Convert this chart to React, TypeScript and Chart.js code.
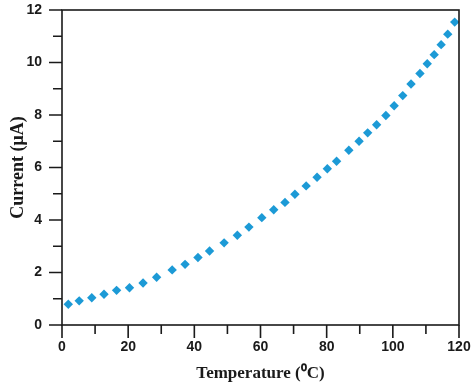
import { useEffect, useRef } from 'react';
import { Chart, registerables } from 'chart.js';

Chart.register(...registerables);

// Temperature (°C) of each plotted marker
const temperatures = [
  1.9, 5.2, 9.0, 12.7, 16.5, 20.4, 24.5, 28.6, 33.3, 37.2, 41.1, 44.6,
  49.0, 53.0, 56.5, 60.4, 64.0, 67.4, 70.4, 73.8, 77.1, 80.2, 83.0, 86.7,
  89.8, 92.4, 95.1, 97.9, 100.4, 103.0, 105.5, 108.2, 110.4, 112.5, 114.6, 116.6, 118.7,
];

// Current (µA) of each plotted marker
const currents = [
  0.79, 0.92, 1.04, 1.17, 1.32, 1.42, 1.6, 1.82, 2.1, 2.31, 2.57, 2.82,
  3.13, 3.42, 3.73, 4.09, 4.39, 4.67, 4.98, 5.3, 5.63, 5.95, 6.24, 6.66,
  7.0, 7.32, 7.63, 7.98, 8.35, 8.74, 9.18, 9.58, 9.95, 10.3, 10.68, 11.08, 11.54,
];

const xRange = [0, 120];
const yRange = [0, 12];
const xMajorStep = 20;
const xMinorStep = 10;
const yMajorStep = 2;
const yMinorStep = 1;

const xTitle = 'Temperature (\u2070C)';
const yTitle = 'Current (\u03BCA)';

const frameTicksPlugin = {
  id: 'frameTicks',
  afterDraw(chart: any) {
    const { ctx, chartArea: a, scales } = chart;
    const xs = scales.x;
    const ys = scales.y;
    ctx.save();
    ctx.strokeStyle = '#1a1a1a';
    ctx.lineWidth = 1.6;
    ctx.strokeRect(a.left, a.top, a.right - a.left, a.bottom - a.top);
    ctx.beginPath();
    const nx = Math.round((xRange[1] - xRange[0]) / xMinorStep);
    for (let i = 0; i <= nx; i++) {
      const v = xRange[0] + i * xMinorStep;
      const px = xs.getPixelForValue(v);
      const len = Math.abs(v % xMajorStep) < 1e-9 ? 13 : 9;
      ctx.moveTo(px, a.bottom);
      ctx.lineTo(px, a.bottom + len);
    }
    const ny = Math.round((yRange[1] - yRange[0]) / yMinorStep);
    for (let i = 0; i <= ny; i++) {
      const v = yRange[0] + i * yMinorStep;
      const py = ys.getPixelForValue(v);
      const len = Math.abs(v % yMajorStep) < 1e-9 ? 13 : 9;
      ctx.moveTo(a.left, py);
      ctx.lineTo(a.left - len, py);
    }
    ctx.stroke();
    ctx.restore();
  },
};

const zeroPadding = (s: any) => {
  s.paddingTop = 0;
  s.paddingBottom = 0;
  s.paddingLeft = 0;
  s.paddingRight = 0;
};

export default function App() {
  const canvasRef = useRef<HTMLCanvasElement | null>(null);

  useEffect(() => {
    document.body.style.margin = '0';
    const canvas = canvasRef.current;
    if (!canvas) return;
    const points = temperatures.map((t, i) => ({ x: t, y: currents[i] }));
    const tickFont = { family: '"Liberation Sans", Arial, sans-serif', size: 14, weight: 'bold' as const };
    const chart = new Chart(canvas, {
      type: 'scatter',
      data: {
        datasets: [
          {
            data: points,
            showLine: false,
            pointStyle: 'rectRot',
            pointRadius: 4.7,
            pointBorderWidth: 0,
            backgroundColor: '#1c9ad6',
            borderColor: '#1c9ad6',
          },
        ],
      },
      options: {
        animation: false,
        responsive: false,
        devicePixelRatio: 1,
        layout: { padding: { top: 10, right: 15, left: 0, bottom: 0 } },
        plugins: {
          legend: { display: false },
          tooltip: { enabled: false },
        },
        scales: {
          x: {
            type: 'linear',
            min: xRange[0],
            max: xRange[1],
            grid: { display: false, drawTicks: false },
            border: { display: false },
            ticks: { stepSize: xMajorStep, padding: 14, color: '#1a1a1a', font: tickFont, maxRotation: 0 },
            title: {
              display: true,
              text: xTitle,
              color: '#1a1a1a',
              font: { family: '"Liberation Serif", "Times New Roman", serif', size: 17, weight: 'bold' },
              padding: { top: 0, bottom: 3 },
            },
            afterFit: (s: any) => {
              s.height = 62;
              zeroPadding(s);
            },
          },
          y: {
            type: 'linear',
            min: yRange[0],
            max: yRange[1],
            grid: { display: false, drawTicks: false },
            border: { display: false },
            ticks: { stepSize: yMajorStep, padding: 20, color: '#1a1a1a', font: tickFont },
            title: {
              display: true,
              text: yTitle,
              color: '#1a1a1a',
              font: { family: '"Liberation Serif", "Times New Roman", serif', size: 18, weight: 'bold' },
              padding: { top: 8, bottom: 0 },
            },
            afterFit: (s: any) => {
              s.width = 62;
              zeroPadding(s);
            },
          },
        },
      },
      plugins: [frameTicksPlugin],
    });
    return () => chart.destroy();
  }, []);

  return (
    <div style={{ position: 'absolute', left: 0, top: 0, width: 474, height: 387, background: '#fff' }}>
      <canvas ref={canvasRef} width={474} height={387} style={{ display: 'block', width: 474, height: 387 }} />
    </div>
  );
}
